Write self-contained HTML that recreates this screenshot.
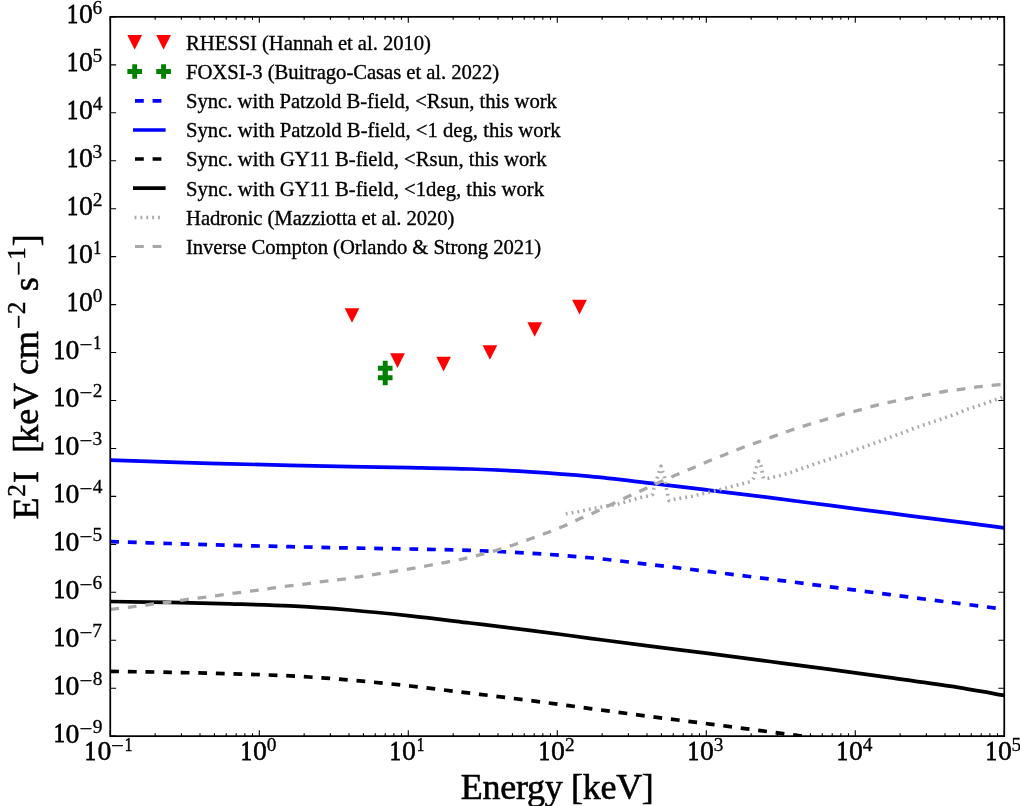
<!DOCTYPE html><html><head><meta charset="utf-8"><style>html,body{margin:0;padding:0;background:#fff;}svg{display:block;will-change:transform}text{font-family:"Liberation Serif", serif;fill:#000}</style></head><body>
<svg width="1020" height="806" viewBox="0 0 1020 806">
<rect width="1020" height="806" fill="#fff"/>
<clipPath id="ax"><rect x="110.25" y="16.85" width="894.0" height="719.3"/></clipPath>
<g clip-path="url(#ax)" fill="none" stroke-linejoin="round">
<path d="M110.30,541.50 C120.25,541.83 150.05,542.88 170.00,543.50 C189.95,544.12 210.00,544.72 230.00,545.25 C250.00,545.78 270.00,546.24 290.00,546.70 C310.00,547.16 330.00,547.62 350.00,548.00 C370.00,548.38 390.00,548.60 410.00,549.00 C430.00,549.40 450.00,549.70 470.00,550.40 C490.00,551.10 510.00,551.98 530.00,553.20 C550.00,554.43 570.00,555.87 590.00,557.75 C610.00,559.63 630.00,562.17 650.00,564.50 C670.00,566.83 690.00,569.27 710.00,571.70 C730.00,574.13 750.00,576.58 770.00,579.10 C790.00,581.62 810.00,584.27 830.00,586.85 C850.00,589.43 870.00,592.03 890.00,594.60 C910.00,597.17 930.95,599.87 950.00,602.30 C969.05,604.73 995.25,608.05 1004.30,609.20" stroke="#0000ff" stroke-width="3.7" stroke-dasharray="8.8 8.8"/>
<path d="M110.30,460.10 C120.25,460.43 150.05,461.48 170.00,462.10 C189.95,462.73 210.00,463.32 230.00,463.85 C250.00,464.38 270.00,464.84 290.00,465.30 C310.00,465.76 330.00,466.22 350.00,466.60 C370.00,466.98 390.00,467.20 410.00,467.60 C430.00,468.00 450.00,468.30 470.00,469.00 C490.00,469.70 510.00,470.57 530.00,471.80 C550.00,473.03 570.00,474.47 590.00,476.35 C610.00,478.23 630.00,480.78 650.00,483.10 C670.00,485.43 690.00,487.87 710.00,490.30 C730.00,492.73 750.00,495.18 770.00,497.70 C790.00,500.22 810.00,502.87 830.00,505.45 C850.00,508.03 870.00,510.63 890.00,513.20 C910.00,515.78 930.95,518.47 950.00,520.90 C969.05,523.33 995.25,526.65 1004.30,527.80" stroke="#0000ff" stroke-width="3.7"/>
<path d="M110.30,671.35 C120.25,671.51 150.05,671.89 170.00,672.30 C189.95,672.71 210.00,673.20 230.00,673.80 C250.00,674.40 270.00,674.86 290.00,675.90 C310.00,676.94 330.00,678.37 350.00,680.05 C370.00,681.73 390.00,683.82 410.00,686.00 C430.00,688.19 450.00,690.74 470.00,693.15 C490.00,695.57 510.00,697.94 530.00,700.50 C550.00,703.07 570.00,705.89 590.00,708.55 C610.00,711.22 630.00,713.92 650.00,716.50 C670.00,719.09 690.00,721.49 710.00,724.05 C730.00,726.62 750.00,729.27 770.00,731.90 C790.00,734.54 810.00,737.15 830.00,739.85 C850.00,742.55 870.00,745.29 890.00,748.10 C910.00,750.92 930.95,753.77 950.00,756.75 C969.05,759.74 995.25,764.46 1004.30,766.00" stroke="#000" stroke-width="3.7" stroke-dasharray="8.8 8.8"/>
<path d="M110.30,601.50 C120.25,601.65 150.05,602.01 170.00,602.40 C189.95,602.79 210.00,603.27 230.00,603.85 C250.00,604.43 270.00,604.88 290.00,605.90 C310.00,606.92 330.00,608.33 350.00,610.00 C370.00,611.67 390.00,613.73 410.00,615.90 C430.00,618.07 450.00,620.60 470.00,623.00 C490.00,625.40 510.00,627.75 530.00,630.30 C550.00,632.85 570.00,635.65 590.00,638.30 C610.00,640.95 630.00,643.63 650.00,646.20 C670.00,648.77 690.00,651.15 710.00,653.70 C730.00,656.25 750.00,658.88 770.00,661.50 C790.00,664.12 810.00,666.72 830.00,669.40 C850.00,672.08 870.00,674.80 890.00,677.60 C910.00,680.40 930.95,683.23 950.00,686.20 C969.05,689.17 995.25,693.87 1004.30,695.40" stroke="#000" stroke-width="3.7"/>
<path d="M565.80,513.70 L578.10,511.80 L590.00,509.20 L601.30,507.10 L618.50,503.90 L630.00,500.60 L641.10,497.60 L647.00,496.20 L652.40,494.70 L653.80,488.80 L657.30,477.50 L661.00,466.30 L664.60,478.00 L666.60,489.30 L669.00,500.60 L675.40,499.10 L681.30,498.10 L692.50,496.20 L704.30,493.20 L715.60,490.80 L727.10,487.60 L738.80,484.70 L750.00,481.80 L753.50,478.20 L756.50,467.10 L758.80,461.20 L761.20,466.50 L763.50,478.40 L768.20,478.20 L774.00,476.90 L780.00,475.60 L791.20,472.30 L801.80,468.50 L813.50,464.40 L824.10,460.90 L835.30,457.10 L846.50,453.30 L857.10,449.40 L868.20,445.40 L879.40,441.40 L890.60,437.10 L901.50,433.20 L912.40,429.00 L923.50,425.00 L934.70,421.40 L945.90,417.40 L957.10,413.50 L967.60,409.10 L978.80,405.60 L990.00,401.70 L1001.20,397.80 L1004.30,396.80" stroke="#a8a8a8" stroke-width="3.6" stroke-dasharray="1.8 4.07"/>
<path d="M110.30,609.30 C111.03,609.22 111.08,609.22 114.70,608.80 C118.32,608.38 126.18,607.52 132.00,606.80 C137.82,606.08 143.75,605.23 149.60,604.50 C155.45,603.77 161.30,603.18 167.10,602.40 C172.90,601.62 178.62,600.60 184.40,599.80 C190.18,599.00 196.00,598.35 201.80,597.60 C207.60,596.85 213.38,596.08 219.20,595.30 C225.02,594.52 230.83,593.68 236.70,592.90 C242.57,592.12 248.55,591.38 254.40,590.60 C260.25,589.82 265.97,588.98 271.80,588.20 C277.63,587.42 283.58,586.63 289.40,585.90 C295.22,585.17 300.92,584.55 306.70,583.80 C312.48,583.05 318.32,582.13 324.10,581.40 C329.88,580.67 335.57,580.17 341.40,579.40 C347.23,578.63 353.25,577.68 359.10,576.80 C364.95,575.92 370.72,575.00 376.50,574.10 C382.28,573.20 388.02,572.32 393.80,571.40 C399.58,570.48 405.40,569.58 411.20,568.60 C417.00,567.62 422.82,566.55 428.60,565.50 C434.38,564.45 440.12,563.42 445.90,562.30 C451.68,561.18 457.55,560.07 463.30,558.80 C469.05,557.53 474.72,556.17 480.40,554.70 C486.08,553.23 491.78,551.67 497.40,550.00 C503.02,548.33 508.57,546.57 514.10,544.70 C519.63,542.83 525.10,540.80 530.60,538.80 C536.10,536.80 541.62,534.80 547.10,532.70 C552.58,530.60 558.08,528.52 563.50,526.20 C568.92,523.88 574.20,521.20 579.60,518.80 C585.00,516.40 590.63,514.18 595.90,511.80 C601.17,509.42 605.92,507.00 611.20,504.50 C616.48,502.00 622.20,499.30 627.60,496.80 C633.00,494.30 638.32,491.92 643.60,489.50 C648.88,487.08 653.93,484.72 659.30,482.30 C664.67,479.88 670.32,477.35 675.80,475.00 C681.28,472.65 686.80,470.48 692.20,468.20 C697.60,465.92 702.78,463.55 708.20,461.30 C713.62,459.05 719.15,456.92 724.70,454.70 C730.25,452.48 736.03,450.07 741.50,448.00 C746.97,445.93 752.03,444.28 757.50,442.30 C762.97,440.32 768.75,438.10 774.30,436.10 C779.85,434.10 785.27,432.17 790.80,430.30 C796.33,428.43 801.90,426.65 807.50,424.90 C813.10,423.15 818.78,421.50 824.40,419.80 C830.02,418.10 835.57,416.27 841.20,414.70 C846.83,413.13 852.52,411.92 858.20,410.40 C863.88,408.88 869.57,407.07 875.30,405.60 C881.03,404.13 886.82,402.87 892.60,401.60 C898.38,400.33 904.20,399.15 910.00,398.00 C915.80,396.85 921.67,395.78 927.40,394.70 C933.13,393.62 938.63,392.42 944.40,391.50 C950.17,390.58 956.17,390.00 962.00,389.20 C967.83,388.40 973.60,387.42 979.40,386.70 C985.20,385.98 992.65,385.32 996.80,384.90 C1000.95,384.48 1003.05,384.32 1004.30,384.20" stroke="#a8a8a8" stroke-width="3.3" stroke-dasharray="8.8 8.8"/>
</g>
<path d="M344.65,308.15 L359.35,308.15 L352.00,322.85 Z" fill="#ff0000"/>
<path d="M390.15,353.25 L404.85,353.25 L397.50,367.95 Z" fill="#ff0000"/>
<path d="M436.25,356.85 L450.95,356.85 L443.60,371.55 Z" fill="#ff0000"/>
<path d="M482.55,345.15 L497.25,345.15 L489.90,359.85 Z" fill="#ff0000"/>
<path d="M527.35,322.15 L542.05,322.15 L534.70,336.85 Z" fill="#ff0000"/>
<path d="M572.15,299.85 L586.85,299.85 L579.50,314.55 Z" fill="#ff0000"/>
<path d="M382.75,360.85 L387.65,360.85 L387.65,365.75 L392.55,365.75 L392.55,370.65 L387.65,370.65 L387.65,375.55 L382.75,375.55 L382.75,370.65 L377.85,370.65 L377.85,365.75 L382.75,365.75 Z" fill="#008000"/>
<path d="M382.75,370.45 L387.65,370.45 L387.65,375.35 L392.55,375.35 L392.55,380.25 L387.65,380.25 L387.65,385.15 L382.75,385.15 L382.75,380.25 L377.85,380.25 L377.85,375.35 L382.75,375.35 Z" fill="#008000"/>
<rect x="110.25" y="16.85" width="894.00" height="719.30" fill="none" stroke="#000" stroke-width="1.75"/>
<path d="M110.30,736.15 V730.25 M110.30,16.85 V22.75 M155.15,736.15 V733.15 M155.15,16.85 V19.85 M181.39,736.15 V733.15 M181.39,16.85 V19.85 M200.01,736.15 V733.15 M200.01,16.85 V19.85 M214.45,736.15 V733.15 M214.45,16.85 V19.85 M226.24,736.15 V733.15 M226.24,16.85 V19.85 M236.22,736.15 V733.15 M236.22,16.85 V19.85 M244.86,736.15 V733.15 M244.86,16.85 V19.85 M252.48,736.15 V733.15 M252.48,16.85 V19.85 M259.30,736.15 V730.25 M259.30,16.85 V22.75 M304.15,736.15 V733.15 M304.15,16.85 V19.85 M330.39,736.15 V733.15 M330.39,16.85 V19.85 M349.01,736.15 V733.15 M349.01,16.85 V19.85 M363.45,736.15 V733.15 M363.45,16.85 V19.85 M375.24,736.15 V733.15 M375.24,16.85 V19.85 M385.22,736.15 V733.15 M385.22,16.85 V19.85 M393.86,736.15 V733.15 M393.86,16.85 V19.85 M401.48,736.15 V733.15 M401.48,16.85 V19.85 M408.30,736.15 V730.25 M408.30,16.85 V22.75 M453.15,736.15 V733.15 M453.15,16.85 V19.85 M479.39,736.15 V733.15 M479.39,16.85 V19.85 M498.01,736.15 V733.15 M498.01,16.85 V19.85 M512.45,736.15 V733.15 M512.45,16.85 V19.85 M524.24,736.15 V733.15 M524.24,16.85 V19.85 M534.22,736.15 V733.15 M534.22,16.85 V19.85 M542.86,736.15 V733.15 M542.86,16.85 V19.85 M550.48,736.15 V733.15 M550.48,16.85 V19.85 M557.30,736.15 V730.25 M557.30,16.85 V22.75 M602.15,736.15 V733.15 M602.15,16.85 V19.85 M628.39,736.15 V733.15 M628.39,16.85 V19.85 M647.01,736.15 V733.15 M647.01,16.85 V19.85 M661.45,736.15 V733.15 M661.45,16.85 V19.85 M673.24,736.15 V733.15 M673.24,16.85 V19.85 M683.22,736.15 V733.15 M683.22,16.85 V19.85 M691.86,736.15 V733.15 M691.86,16.85 V19.85 M699.48,736.15 V733.15 M699.48,16.85 V19.85 M706.30,736.15 V730.25 M706.30,16.85 V22.75 M751.15,736.15 V733.15 M751.15,16.85 V19.85 M777.39,736.15 V733.15 M777.39,16.85 V19.85 M796.01,736.15 V733.15 M796.01,16.85 V19.85 M810.45,736.15 V733.15 M810.45,16.85 V19.85 M822.24,736.15 V733.15 M822.24,16.85 V19.85 M832.22,736.15 V733.15 M832.22,16.85 V19.85 M840.86,736.15 V733.15 M840.86,16.85 V19.85 M848.48,736.15 V733.15 M848.48,16.85 V19.85 M855.30,736.15 V730.25 M855.30,16.85 V22.75 M900.15,736.15 V733.15 M900.15,16.85 V19.85 M926.39,736.15 V733.15 M926.39,16.85 V19.85 M945.01,736.15 V733.15 M945.01,16.85 V19.85 M959.45,736.15 V733.15 M959.45,16.85 V19.85 M971.24,736.15 V733.15 M971.24,16.85 V19.85 M981.22,736.15 V733.15 M981.22,16.85 V19.85 M989.86,736.15 V733.15 M989.86,16.85 V19.85 M997.48,736.15 V733.15 M997.48,16.85 V19.85 M1004.30,736.15 V730.25 M1004.30,16.85 V22.75 M110.25,736.15 H116.15 M1004.25,736.15 H998.35 M110.25,688.20 H116.15 M1004.25,688.20 H998.35 M110.25,640.25 H116.15 M1004.25,640.25 H998.35 M110.25,592.30 H116.15 M1004.25,592.30 H998.35 M110.25,544.35 H116.15 M1004.25,544.35 H998.35 M110.25,496.40 H116.15 M1004.25,496.40 H998.35 M110.25,448.45 H116.15 M1004.25,448.45 H998.35 M110.25,400.50 H116.15 M1004.25,400.50 H998.35 M110.25,352.55 H116.15 M1004.25,352.55 H998.35 M110.25,304.60 H116.15 M1004.25,304.60 H998.35 M110.25,256.65 H116.15 M1004.25,256.65 H998.35 M110.25,208.70 H116.15 M1004.25,208.70 H998.35 M110.25,160.75 H116.15 M1004.25,160.75 H998.35 M110.25,112.80 H116.15 M1004.25,112.80 H998.35 M110.25,64.85 H116.15 M1004.25,64.85 H998.35 M110.25,16.90 H116.15 M1004.25,16.90 H998.35" stroke="#000" stroke-width="1.1" fill="none"/>
<g transform="translate(90.75,0) scale(0.8,1) translate(-90.75,0)"><text x="83.41" y="759.95" font-size="27.8" stroke="#000" stroke-width="1.0">1</text></g><text x="97.45" y="760.30" font-size="27.8" text-anchor="start" stroke="#000" stroke-width="0.45">0</text>
<g transform="translate(117.50,0) scale(1.18,1) translate(-117.50,0)"><text x="112.02" y="752.20" font-size="19.4" text-anchor="start" stroke="#000" stroke-width="0.31">−</text></g>
<g transform="translate(128.85,0) scale(0.78,1) translate(-128.85,0)"><text x="123.73" y="750.80" font-size="19.4" stroke="#000" stroke-width="0.6">1</text></g>
<g transform="translate(246.65,0) scale(0.8,1) translate(-246.65,0)"><text x="239.31" y="759.95" font-size="27.8" stroke="#000" stroke-width="1.0">1</text></g><text x="253.05" y="760.30" font-size="27.8" text-anchor="start" stroke="#000" stroke-width="0.45">0</text>
<text x="266.80" y="750.80" font-size="19.4" text-anchor="start" stroke="#000" stroke-width="0.31">0</text>
<g transform="translate(395.65,0) scale(0.8,1) translate(-395.65,0)"><text x="388.31" y="759.95" font-size="27.8" stroke="#000" stroke-width="1.0">1</text></g><text x="402.05" y="760.30" font-size="27.8" text-anchor="start" stroke="#000" stroke-width="0.45">0</text>
<g transform="translate(420.65,0) scale(0.78,1) translate(-420.65,0)"><text x="415.53" y="750.80" font-size="19.4" stroke="#000" stroke-width="0.6">1</text></g>
<g transform="translate(544.65,0) scale(0.8,1) translate(-544.65,0)"><text x="537.31" y="759.95" font-size="27.8" stroke="#000" stroke-width="1.0">1</text></g><text x="551.05" y="760.30" font-size="27.8" text-anchor="start" stroke="#000" stroke-width="0.45">0</text>
<text x="564.91" y="750.80" font-size="19.4" text-anchor="start" stroke="#000" stroke-width="0.31">2</text>
<g transform="translate(693.65,0) scale(0.8,1) translate(-693.65,0)"><text x="686.31" y="759.95" font-size="27.8" stroke="#000" stroke-width="1.0">1</text></g><text x="700.05" y="760.30" font-size="27.8" text-anchor="start" stroke="#000" stroke-width="0.45">0</text>
<text x="713.71" y="750.80" font-size="19.4" text-anchor="start" stroke="#000" stroke-width="0.31">3</text>
<g transform="translate(842.65,0) scale(0.8,1) translate(-842.65,0)"><text x="835.31" y="759.95" font-size="27.8" stroke="#000" stroke-width="1.0">1</text></g><text x="849.05" y="760.30" font-size="27.8" text-anchor="start" stroke="#000" stroke-width="0.45">0</text>
<text x="862.76" y="750.80" font-size="19.4" text-anchor="start" stroke="#000" stroke-width="0.31">4</text>
<g transform="translate(991.65,0) scale(0.8,1) translate(-991.65,0)"><text x="984.31" y="759.95" font-size="27.8" stroke="#000" stroke-width="1.0">1</text></g><text x="998.05" y="760.30" font-size="27.8" text-anchor="start" stroke="#000" stroke-width="0.45">0</text>
<text x="1011.62" y="750.80" font-size="19.4" text-anchor="start" stroke="#000" stroke-width="0.31">5</text>
<g transform="translate(59.65,0) scale(0.8,1) translate(-59.65,0)"><text x="52.31" y="742.15" font-size="27.8" stroke="#000" stroke-width="1.0">1</text></g><text x="65.60" y="742.50" font-size="27.8" text-anchor="start" stroke="#000" stroke-width="0.45">0</text>
<g transform="translate(85.95,0) scale(1.18,1) translate(-85.95,0)"><text x="80.47" y="734.55" font-size="19.4" text-anchor="start" stroke="#000" stroke-width="0.31">−</text></g>
<text x="92.79" y="733.05" font-size="19.4" text-anchor="start" stroke="#000" stroke-width="0.31">9</text>
<g transform="translate(59.65,0) scale(0.8,1) translate(-59.65,0)"><text x="52.31" y="694.20" font-size="27.8" stroke="#000" stroke-width="1.0">1</text></g><text x="65.60" y="694.55" font-size="27.8" text-anchor="start" stroke="#000" stroke-width="0.45">0</text>
<g transform="translate(85.95,0) scale(1.18,1) translate(-85.95,0)"><text x="80.47" y="686.60" font-size="19.4" text-anchor="start" stroke="#000" stroke-width="0.31">−</text></g>
<text x="92.70" y="685.10" font-size="19.4" text-anchor="start" stroke="#000" stroke-width="0.31">8</text>
<g transform="translate(59.65,0) scale(0.8,1) translate(-59.65,0)"><text x="52.31" y="646.25" font-size="27.8" stroke="#000" stroke-width="1.0">1</text></g><text x="65.60" y="646.60" font-size="27.8" text-anchor="start" stroke="#000" stroke-width="0.45">0</text>
<g transform="translate(85.95,0) scale(1.18,1) translate(-85.95,0)"><text x="80.47" y="638.65" font-size="19.4" text-anchor="start" stroke="#000" stroke-width="0.31">−</text></g>
<text x="92.34" y="637.15" font-size="19.4" text-anchor="start" stroke="#000" stroke-width="0.31">7</text>
<g transform="translate(59.65,0) scale(0.8,1) translate(-59.65,0)"><text x="52.31" y="598.30" font-size="27.8" stroke="#000" stroke-width="1.0">1</text></g><text x="65.60" y="598.65" font-size="27.8" text-anchor="start" stroke="#000" stroke-width="0.45">0</text>
<g transform="translate(85.95,0) scale(1.18,1) translate(-85.95,0)"><text x="80.47" y="590.70" font-size="19.4" text-anchor="start" stroke="#000" stroke-width="0.31">−</text></g>
<text x="92.57" y="589.20" font-size="19.4" text-anchor="start" stroke="#000" stroke-width="0.31">6</text>
<g transform="translate(59.65,0) scale(0.8,1) translate(-59.65,0)"><text x="52.31" y="550.35" font-size="27.8" stroke="#000" stroke-width="1.0">1</text></g><text x="65.60" y="550.70" font-size="27.8" text-anchor="start" stroke="#000" stroke-width="0.45">0</text>
<g transform="translate(85.95,0) scale(1.18,1) translate(-85.95,0)"><text x="80.47" y="542.75" font-size="19.4" text-anchor="start" stroke="#000" stroke-width="0.31">−</text></g>
<text x="92.52" y="541.25" font-size="19.4" text-anchor="start" stroke="#000" stroke-width="0.31">5</text>
<g transform="translate(59.65,0) scale(0.8,1) translate(-59.65,0)"><text x="52.31" y="502.40" font-size="27.8" stroke="#000" stroke-width="1.0">1</text></g><text x="65.60" y="502.75" font-size="27.8" text-anchor="start" stroke="#000" stroke-width="0.45">0</text>
<g transform="translate(85.95,0) scale(1.18,1) translate(-85.95,0)"><text x="80.47" y="494.80" font-size="19.4" text-anchor="start" stroke="#000" stroke-width="0.31">−</text></g>
<text x="92.66" y="493.30" font-size="19.4" text-anchor="start" stroke="#000" stroke-width="0.31">4</text>
<g transform="translate(59.65,0) scale(0.8,1) translate(-59.65,0)"><text x="52.31" y="454.45" font-size="27.8" stroke="#000" stroke-width="1.0">1</text></g><text x="65.60" y="454.80" font-size="27.8" text-anchor="start" stroke="#000" stroke-width="0.45">0</text>
<g transform="translate(85.95,0) scale(1.18,1) translate(-85.95,0)"><text x="80.47" y="446.85" font-size="19.4" text-anchor="start" stroke="#000" stroke-width="0.31">−</text></g>
<text x="92.61" y="445.35" font-size="19.4" text-anchor="start" stroke="#000" stroke-width="0.31">3</text>
<g transform="translate(59.65,0) scale(0.8,1) translate(-59.65,0)"><text x="52.31" y="406.50" font-size="27.8" stroke="#000" stroke-width="1.0">1</text></g><text x="65.60" y="406.85" font-size="27.8" text-anchor="start" stroke="#000" stroke-width="0.45">0</text>
<g transform="translate(85.95,0) scale(1.18,1) translate(-85.95,0)"><text x="80.47" y="398.90" font-size="19.4" text-anchor="start" stroke="#000" stroke-width="0.31">−</text></g>
<text x="92.81" y="397.40" font-size="19.4" text-anchor="start" stroke="#000" stroke-width="0.31">2</text>
<g transform="translate(59.65,0) scale(0.8,1) translate(-59.65,0)"><text x="52.31" y="358.55" font-size="27.8" stroke="#000" stroke-width="1.0">1</text></g><text x="65.60" y="358.90" font-size="27.8" text-anchor="start" stroke="#000" stroke-width="0.45">0</text>
<g transform="translate(85.95,0) scale(1.18,1) translate(-85.95,0)"><text x="80.47" y="350.95" font-size="19.4" text-anchor="start" stroke="#000" stroke-width="0.31">−</text></g>
<g transform="translate(97.55,0) scale(0.78,1) translate(-97.55,0)"><text x="92.43" y="349.45" font-size="19.4" stroke="#000" stroke-width="0.6">1</text></g>
<g transform="translate(72.80,0) scale(0.8,1) translate(-72.80,0)"><text x="65.46" y="310.60" font-size="27.8" stroke="#000" stroke-width="1.0">1</text></g><text x="78.95" y="310.95" font-size="27.8" text-anchor="start" stroke="#000" stroke-width="0.45">0</text>
<text x="92.70" y="301.50" font-size="19.4" text-anchor="start" stroke="#000" stroke-width="0.31">0</text>
<g transform="translate(72.80,0) scale(0.8,1) translate(-72.80,0)"><text x="65.46" y="262.65" font-size="27.8" stroke="#000" stroke-width="1.0">1</text></g><text x="78.95" y="263.00" font-size="27.8" text-anchor="start" stroke="#000" stroke-width="0.45">0</text>
<g transform="translate(97.55,0) scale(0.78,1) translate(-97.55,0)"><text x="92.43" y="253.55" font-size="19.4" stroke="#000" stroke-width="0.6">1</text></g>
<g transform="translate(72.80,0) scale(0.8,1) translate(-72.80,0)"><text x="65.46" y="214.70" font-size="27.8" stroke="#000" stroke-width="1.0">1</text></g><text x="78.95" y="215.05" font-size="27.8" text-anchor="start" stroke="#000" stroke-width="0.45">0</text>
<text x="92.81" y="205.60" font-size="19.4" text-anchor="start" stroke="#000" stroke-width="0.31">2</text>
<g transform="translate(72.80,0) scale(0.8,1) translate(-72.80,0)"><text x="65.46" y="166.75" font-size="27.8" stroke="#000" stroke-width="1.0">1</text></g><text x="78.95" y="167.10" font-size="27.8" text-anchor="start" stroke="#000" stroke-width="0.45">0</text>
<text x="92.61" y="157.65" font-size="19.4" text-anchor="start" stroke="#000" stroke-width="0.31">3</text>
<g transform="translate(72.80,0) scale(0.8,1) translate(-72.80,0)"><text x="65.46" y="118.80" font-size="27.8" stroke="#000" stroke-width="1.0">1</text></g><text x="78.95" y="119.15" font-size="27.8" text-anchor="start" stroke="#000" stroke-width="0.45">0</text>
<text x="92.66" y="109.70" font-size="19.4" text-anchor="start" stroke="#000" stroke-width="0.31">4</text>
<g transform="translate(72.80,0) scale(0.8,1) translate(-72.80,0)"><text x="65.46" y="70.85" font-size="27.8" stroke="#000" stroke-width="1.0">1</text></g><text x="78.95" y="71.20" font-size="27.8" text-anchor="start" stroke="#000" stroke-width="0.45">0</text>
<text x="92.52" y="61.75" font-size="19.4" text-anchor="start" stroke="#000" stroke-width="0.31">5</text>
<g transform="translate(72.80,0) scale(0.8,1) translate(-72.80,0)"><text x="65.46" y="22.90" font-size="27.8" stroke="#000" stroke-width="1.0">1</text></g><text x="78.95" y="23.25" font-size="27.8" text-anchor="start" stroke="#000" stroke-width="0.45">0</text>
<text x="92.57" y="13.80" font-size="19.4" text-anchor="start" stroke="#000" stroke-width="0.31">6</text>
<text x="557.20" y="798.60" font-size="36" text-anchor="middle" stroke="#000" stroke-width="0.58" letter-spacing="-0.3">Energy [keV]</text>
<text transform="translate(37.80,519.47) rotate(-90)" font-size="36" stroke="#000" stroke-width="0.58">E</text>
<text transform="translate(25.20,496.76) rotate(-90)" font-size="25.2" stroke="#000" stroke-width="0.41">2</text>
<text transform="translate(37.80,483.01) rotate(-90)" font-size="36" stroke="#000" stroke-width="0.58">I</text>
<text transform="translate(37.80,452.98) rotate(-90)" font-size="36" stroke="#000" stroke-width="0.58">[</text>
<text transform="translate(37.80,442.84) rotate(-90)" font-size="36" stroke="#000" stroke-width="0.58">k</text>
<text transform="translate(37.80,424.82) rotate(-90)" font-size="36" stroke="#000" stroke-width="0.58">e</text>
<text transform="translate(37.80,409.10) rotate(-90)" font-size="36" stroke="#000" stroke-width="0.58">V</text>
<text transform="translate(37.80,375.12) rotate(-90)" font-size="36" stroke="#000" stroke-width="0.58">c</text>
<text transform="translate(37.80,358.95) rotate(-90)" font-size="36" stroke="#000" stroke-width="0.58">m</text>
<text transform="translate(27.20,329.12) rotate(-90)" font-size="25.2" stroke="#000" stroke-width="0.41">−</text>
<text transform="translate(25.20,314.16) rotate(-90)" font-size="25.2" stroke="#000" stroke-width="0.41">2</text>
<text transform="translate(37.80,291.19) rotate(-90)" font-size="36" stroke="#000" stroke-width="0.58">s</text>
<text transform="translate(27.20,275.47) rotate(-90)" font-size="25.2" stroke="#000" stroke-width="0.41">−</text>
<text transform="translate(25.20,259.65) rotate(-90)" font-size="25.2" stroke="#000" stroke-width="0.41">1</text>
<text transform="translate(37.80,246.36) rotate(-90)" font-size="36" stroke="#000" stroke-width="0.58">]</text>
<text x="186.00" y="49.80" font-size="20.7" text-anchor="start" stroke="#000" stroke-width="0.34" textLength="244.9" lengthAdjust="spacing">RHESSI (Hannah et al. 2010)</text>
<text x="186.00" y="78.95" font-size="20.7" text-anchor="start" stroke="#000" stroke-width="0.34" textLength="313.2" lengthAdjust="spacing">FOXSI-3 (Buitrago-Casas et al. 2022)</text>
<text x="186.00" y="108.10" font-size="20.7" text-anchor="start" stroke="#000" stroke-width="0.34" textLength="370.9" lengthAdjust="spacing">Sync. with Patzold B-field, &lt;Rsun, this work</text>
<text x="186.00" y="137.25" font-size="20.7" text-anchor="start" stroke="#000" stroke-width="0.34" textLength="374.7" lengthAdjust="spacing">Sync. with Patzold B-field, &lt;1 deg, this work</text>
<text x="186.00" y="166.40" font-size="20.7" text-anchor="start" stroke="#000" stroke-width="0.34" textLength="360.5" lengthAdjust="spacing">Sync. with GY11 B-field, &lt;Rsun, this work</text>
<text x="186.00" y="195.55" font-size="20.7" text-anchor="start" stroke="#000" stroke-width="0.34" textLength="358.1" lengthAdjust="spacing">Sync. with GY11 B-field, &lt;1deg, this work</text>
<text x="186.00" y="224.70" font-size="20.7" text-anchor="start" stroke="#000" stroke-width="0.34" textLength="268.4" lengthAdjust="spacing">Hadronic (Mazziotta et al. 2020)</text>
<text x="186.00" y="253.85" font-size="20.7" text-anchor="start" stroke="#000" stroke-width="0.34" textLength="355.2" lengthAdjust="spacing">Inverse Compton (Orlando &amp; Strong 2021)</text>
<path d="M127.35,35.00 L142.05,35.00 L134.70,49.70 Z" fill="#ff0000"/>
<path d="M156.25,35.00 L170.95,35.00 L163.60,49.70 Z" fill="#ff0000"/>
<path d="M132.25,64.15 L137.15,64.15 L137.15,69.05 L142.05,69.05 L142.05,73.95 L137.15,73.95 L137.15,78.85 L132.25,78.85 L132.25,73.95 L127.35,73.95 L127.35,69.05 L132.25,69.05 Z" fill="#008000"/>
<path d="M161.15,64.15 L166.05,64.15 L166.05,69.05 L170.95,69.05 L170.95,73.95 L166.05,73.95 L166.05,78.85 L161.15,78.85 L161.15,73.95 L156.25,73.95 L156.25,69.05 L161.15,69.05 Z" fill="#008000"/>
<path d="M135,100.85 H143.8 M152.6,100.85 H161.4" stroke="#0000ff" stroke-width="3.7" fill="none"/>
<path d="M133,130 H165.6" stroke="#0000ff" stroke-width="3.7"/>
<path d="M135,159.00 H143.8 M152.6,159.00 H161.4" stroke="#000" stroke-width="3.7" fill="none"/>
<path d="M133,188.2 H165.6" stroke="#000" stroke-width="3.7"/>
<path d="M134.6,217.5 H161" stroke="#a8a8a8" stroke-width="3.6" stroke-dasharray="1.8 4.07" fill="none"/>
<path d="M135,246.60 H143.8 M152.6,246.60 H161.4" stroke="#a8a8a8" stroke-width="3.0" fill="none"/>
</svg></body></html>
